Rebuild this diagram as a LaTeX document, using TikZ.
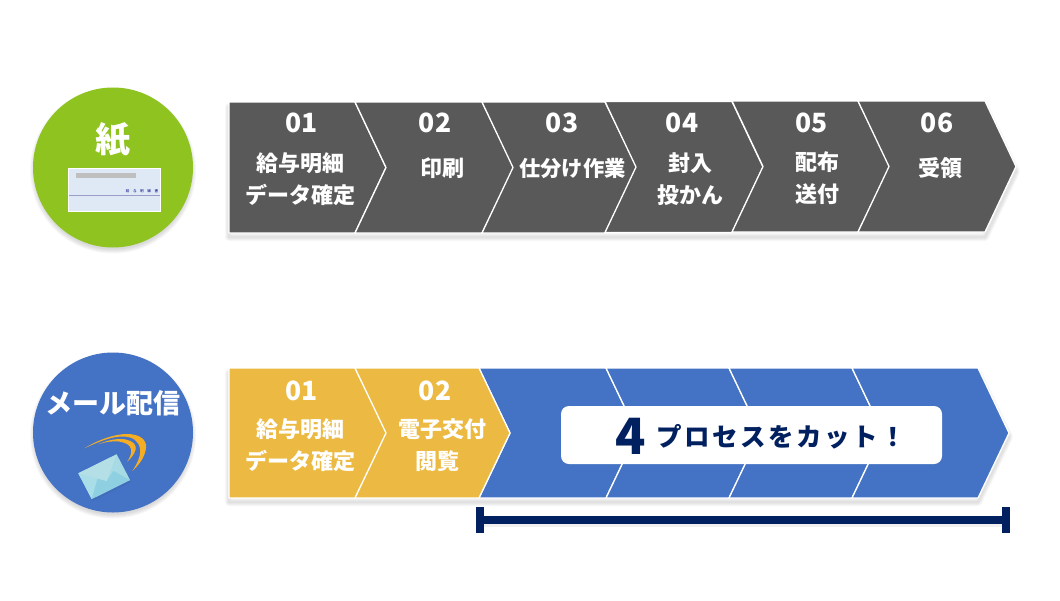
\documentclass[tikz,border=0pt]{standalone}
\usepackage{fontspec}
\setmainfont{Noto Sans CJK JP}
\usetikzlibrary{positioning}
\definecolor{grayarrow}{HTML}{595959}
\definecolor{yellowarrow}{HTML}{ECBA42}
\definecolor{bluearrow}{HTML}{4472C4}
\definecolor{greencircle}{HTML}{8FC31F}
\definecolor{navybar}{HTML}{002060}
\definecolor{swoosh}{HTML}{F5AE23}
\definecolor{slipfill}{HTML}{DEE9F5}
\definecolor{envbase}{HTML}{A6DAE4}
\definecolor{envleft}{HTML}{A9DEE9}
\definecolor{envlow}{HTML}{8ED0E1}
\definecolor{envflap}{HTML}{B5DFE6}
\tikzset{
	px/.style={x=1pt,y=-1pt},
	chevron/.style={draw=white,line width=1.3pt,line join=miter},
	num/.style={text=white,font=\fontsize{26.5}{27}\selectfont\bfseries,inner sep=0pt},
	lbl/.style={text=white,font=\fontsize{22}{32}\selectfont\bfseries,align=center,inner sep=0pt},
	title/.style={text=white,font=\fontsize{27}{27}\selectfont\bfseries,inner sep=0pt},
}
% left x, top corner x, tip x, top y, bottom y
\newcommand{\chevpath}[5]{(#1,#4)--(#2,#4)--(#3,{(#4+#5)/2})--(#2,#5)--(#1,#5)--(#1+31,{(#4+#5)/2})--cycle}
\newcommand{\softshadow}[5]{%
	\foreach \w in {8,6,4,2} {\draw[black,draw opacity=.03,line width=\w pt,line join=round]
		(#1,#2+5)--(#3,#2+5)--(#4,{#2+4+(#5-#2)/2})--(#3,#5+4)--(#1,#5+4)--cycle;}}
\begin{document}
\begin{tikzpicture}[px]
	\useasboundingbox (0,0) rectangle (1060,600);
	%circles
	\foreach \y in {170.5,435.5} {\foreach \r in {83,82,81,80,79} {\fill[black,opacity=.03] (113,\y) circle (\r);}}
	\node[circle,fill=greencircle,minimum size=160pt,inner sep=0pt] (paper) at (113,167.5) {};
	\node[circle,fill=bluearrow,minimum size=160pt,inner sep=0pt] (mail) at (113,432.5) {};
	\node[title,font=\fontsize{35}{35}\selectfont\bfseries] (papertitle) at (113,140) {紙};
	\node[title] (mailtitle) at (113,403) {メール配信};
	%payslip
	\fill[black,opacity=.18] (69,169) rectangle (161,212);
	\draw[fill=slipfill,draw=white,line width=.8pt] (68.5,168.5) rectangle (160,211);
	\fill[gray!50] (76,172.5) rectangle (136,178);
	\draw[blue!30!gray!60,line width=.8pt] (68.5,195) -- (160,195);
	\node[inner sep=0pt,text=blue!50!black,font=\fontsize{3.6}{4}\selectfont] (slipname) at (142,191) {給　与　明　細　書};
	%envelope
	\fill[fill=black,opacity=.05] (79,475)--(117.5,456)--(130.8,482)--(92.5,501)--cycle;
	\fill[envbase] (78.3,473.3)--(116.7,454.3)--(130,480)--(91.7,499)--cycle;
	\fill[envleft] (78.3,473.3)--(97.7,478.3)--(91.7,499)--cycle;
	\fill[envlow] (91.7,499)--(97.7,478.3)--(106.7,481)--(113.3,471)--(130,480)--cycle;
	\fill[envflap] (78.3,473.3)--(116.7,454.3)--(106.7,481)--cycle;
	\fill[swoosh] (84.3,448.3) .. controls (98,440) and (114,434) .. (127,434) .. controls (140,434) and (147,440) .. (146,448) .. controls (145,457) and (139,465) .. (132.3,471) .. controls (137,464) and (141,456) .. (140,449) .. controls (139,441) and (133,437) .. (124,436.5) .. controls (112,436) and (98,442) .. cycle;
	\fill[swoosh] (98.3,444.3) .. controls (108,440) and (118,438) .. (126,439.5) .. controls (133,441) and (137,445) .. (135.5,450) .. controls (134,455) and (131,458) .. (127.3,461.7) .. controls (130,457) and (132,453) .. (131,449) .. controls (130,444.5) and (125,442.5) .. (119,441.5) .. controls (112,440.8) and (105,442) .. cycle;
	%paper flow
	\softshadow{229}{102}{985}{1016}{233}
	\draw[chevron,fill=grayarrow] (229,102)--(355,102)--(386,167.5)--(355,233)--(229,233)--cycle;
	\draw[chevron,fill=grayarrow] \chevpath{355}{482}{514}{102}{233};
	\draw[chevron,fill=grayarrow] \chevpath{482}{605}{637}{102}{233};
	\draw[chevron,fill=grayarrow] \chevpath{605}{732}{763}{101.5}{232.5};
	\draw[chevron,fill=grayarrow] \chevpath{732}{858}{890}{101}{232};
	\draw[chevron,fill=grayarrow] \chevpath{858}{985}{1016}{101}{232};
	\node[num] (p1) at (301.5,122.5) {01};
	\node[num] (p2) at (435,122.5) {02};
	\node[num] (p3) at (562,122.5) {03};
	\node[num] (p4) at (682,122.5) {04};
	\node[num] (p5) at (811.5,122.5) {05};
	\node[num] (p6) at (937,122.5) {06};
	\node[lbl] (pl1) at (300,179) {給与明細\\データ確定};
	\node[lbl] (pl2) at (442,168) {印刷};
	\node[lbl,font=\fontsize{21.3}{32}\selectfont\bfseries] (pl3) at (572.5,168) {仕分け作業};
	\node[lbl] (pl4) at (690,179) {封入\\投かん};
	\node[lbl] (pl5) at (817,178) {配布\\送付};
	\node[lbl] (pl6) at (940,168) {受領};
	%mail flow
	\softshadow{229}{368}{978}{1009}{498}
	\draw[chevron,fill=bluearrow] \chevpath{479}{606}{637}{368}{498};
	\draw[chevron,fill=bluearrow] \chevpath{606}{729}{760}{368}{498};
	\draw[chevron,fill=bluearrow] \chevpath{729}{852}{883}{368}{498};
	\draw[chevron,fill=bluearrow] \chevpath{852}{978}{1009}{368}{498};
	\draw[chevron,fill=yellowarrow] (229,368)--(355,368)--(387,433)--(355,498)--(229,498)--cycle;
	\draw[chevron,fill=yellowarrow] \chevpath{355}{479}{510}{368}{498};
	\node[num] (m1) at (301.5,390.5) {01};
	\node[num] (m2) at (435,390.5) {02};
	\node[lbl] (ml1) at (300,445) {給与明細\\データ確定};
	\node[lbl] (ml2) at (442.5,445) {電子交付\\\mbox{閲覧\kern10pt}};
	\node[fill=white,rounded corners=8pt,minimum width=381pt,minimum height=58pt,inner sep=0pt] (cutbox) at (751.5,435) {};
	\node[text=navybar,inner sep=0pt,font=\fontsize{50}{50}\selectfont\bfseries] (cutnum) at (631,436) {4};
	\node[text=navybar,inner sep=0pt,anchor=west,font=\fontsize{25.5}{25.5}\selectfont\bfseries\addfontfeature{LetterSpace=10}] (cuttext) at (656,437) {プロセスをカット！};
	%bar
	\coordinate (barl) at (480,520);
	\coordinate (barr) at (1006,520);
	\draw[black,opacity=.06,line width=9pt] (barl)++(4,2) -- ([yshift=-2pt]barr);
	\draw[navybar,line width=8pt] (barl) -- (barr);
	\draw[navybar,line width=8pt] (480,507) -- (480,533);
	\draw[navybar,line width=8pt] (1006,507) -- (1006,533);
\end{tikzpicture}
\end{document}
